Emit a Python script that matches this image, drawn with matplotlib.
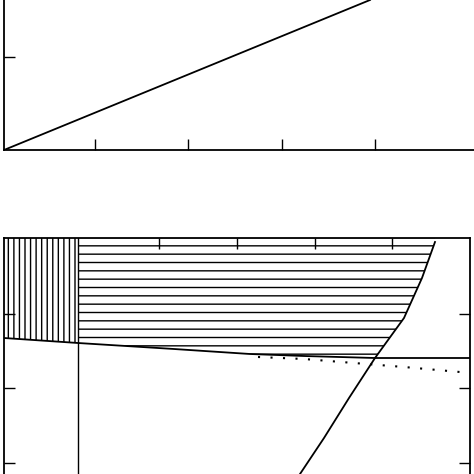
import matplotlib
matplotlib.use('Agg')
import matplotlib.pyplot as plt
import numpy as np

# top panel line (pixel-like units)
top_x = [0, 366]
top_y = [0, 150]
top_xticks = [91, 184, 278, 371]
# bottom panel (coordinates in axis units, y downward)
bnd_x = [0, 74, 170, 246, 300, 371, 466]
bnd_y = [100, 105, 111, 116, 118, 120, 120]
dot_x = [254, 300, 350, 400, 456]
dot_y = [119, 121, 125, 129, 134]
cur_x = [431, 418, 400, 371, 345, 320, 296]
cur_y = [4, 40, 80, 120, 160, 200, 236]
split_x = 74

plt.rcParams['hatch.linewidth'] = 1.0
fig = plt.figure(figsize=(4.74, 4.74), dpi=100)
W, H = 474, 474
ax1 = fig.add_axes([4/W, 1-150/H, 475/W, 160/H])
ax1.plot(top_x, top_y, color='black', lw=1.3)
ax1.set_xlim(0, 475); ax1.set_ylim(0, 160)
ax1.set_xticks(top_xticks); ax1.set_yticks([93])
ax1.tick_params(direction='in', length=8, width=1, labelleft=False, labelbottom=False)
for s in ax1.spines.values(): s.set_linewidth(1.3)
ax1.spines['top'].set_visible(False); ax1.spines['right'].set_visible(False)

ax2 = fig.add_axes([4/W, 0, 466/W, 236/H])
ax2.set_xlim(0, 466); ax2.set_ylim(236, 0)
ax2.fill_between([0, split_x], [0, 0], [100, 105], facecolor='none', hatch='|||', edgecolor='black', lw=0)
xs = np.linspace(split_x, 431, 300)
low = np.interp(xs, bnd_x, bnd_y)
cx = np.interp(xs, cur_x[::-1], cur_y[::-1])
upper = np.where(xs <= 371, low, np.minimum(low, cx))
ax2.fill_between(xs, 0, upper, facecolor='none', hatch='--', edgecolor='black', lw=0)
ax2.plot(bnd_x, bnd_y, color='black', lw=1.3)
ax2.plot(dot_x, dot_y, color='black', lw=1.5, ls=(0, (1, 5)))
ax2.plot(cur_x, cur_y, color='black', lw=1.3)
ax2.axvline(split_x, color='black', lw=1)
ax2.set_xticks([155, 233, 311, 388]); ax2.set_yticks([76, 150, 225])
ax2.tick_params(direction='in', length=8, width=1, labelleft=False, labelbottom=False,
                top=True, right=True, bottom=False)
for s in ax2.spines.values(): s.set_linewidth(1.3)
ax2.spines['bottom'].set_visible(False)
fig.savefig('out.png', dpi=100)
